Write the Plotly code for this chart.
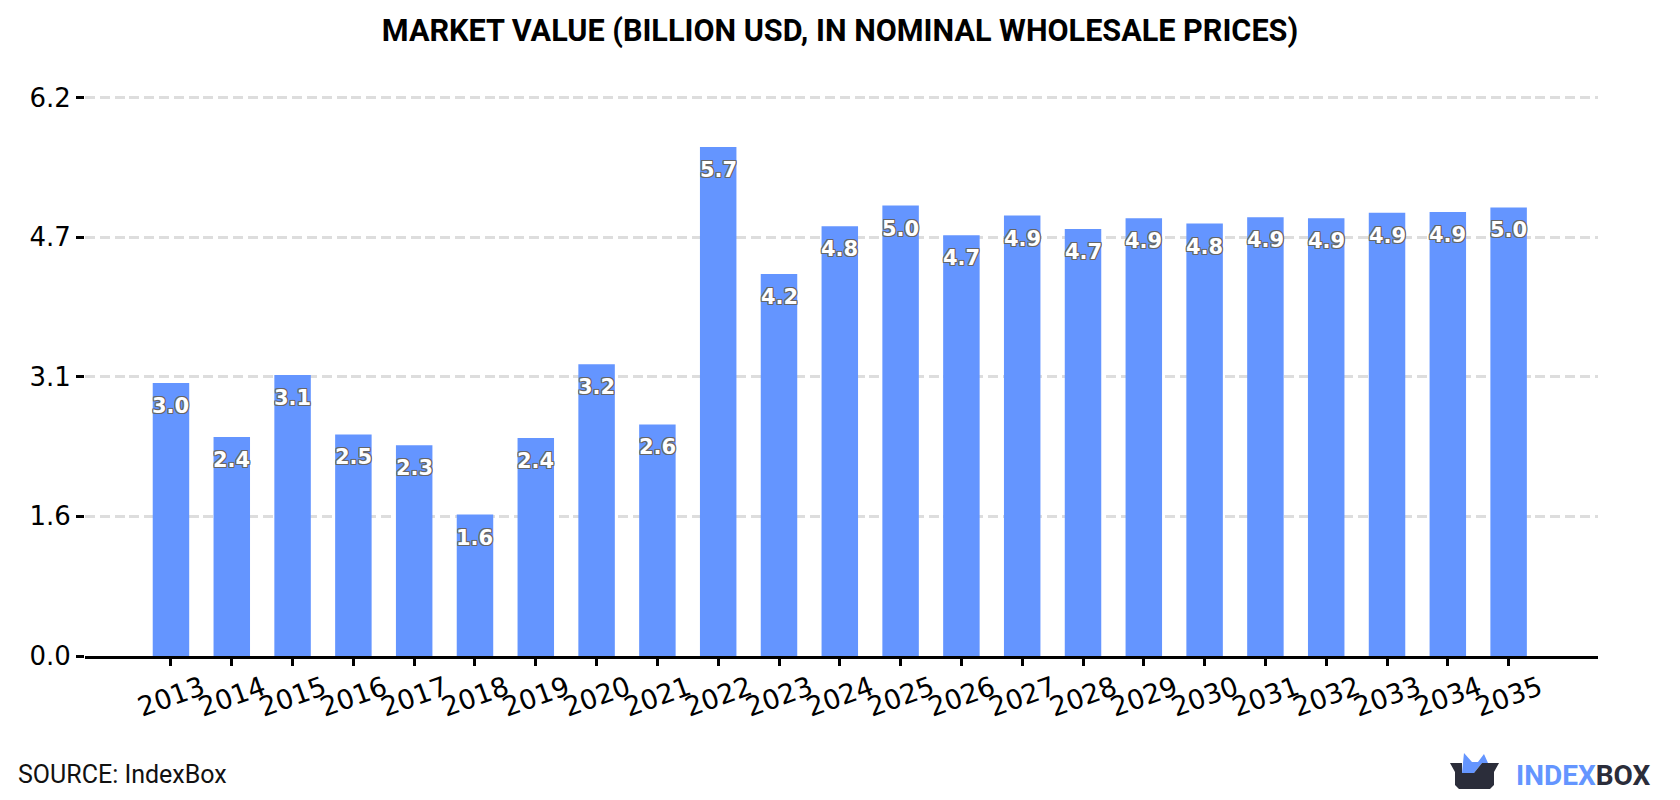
import plotly.graph_objects as go

years = [str(y) for y in range(2013, 2036)]
market_value = [3.03, 2.43, 3.12, 2.46, 2.34, 1.57, 2.42, 3.24, 2.57, 5.65, 4.24, 4.77,
                5.00, 4.67, 4.89, 4.74, 4.86, 4.80, 4.87, 4.86, 4.92, 4.93, 4.98]
y_ticks = [0, 1.55, 3.1, 4.65, 6.2]
y_tick_labels = ["0.0", "1.6", "3.1", "4.7", "6.2"]

BLUE = "#6495ff"
DARK = "#2b2d3a"
W, H = 1680, 800
Y_TOP = 6.25
M_L, M_R, M_T, M_B = 85, 82, 92.5, 144
OUTLINE = ("1px 0 #666, -1px 0 #666, 0 1px #666, 0 -1px #666, "
           "1px 1px #666, -1px 1px #666, 1px -1px #666, -1px -1px #666")


def paper_x(px):
    return (px - M_L) / (W - M_L - M_R)


def paper_y(py):
    return (H - M_B - py) / (H - M_T - M_B)


fig = go.Figure(go.Bar(x=years, y=market_value, width=0.6,
                       marker=dict(color=BLUE, line=dict(width=0)), hoverinfo="x+y"))

# Value labels sit just under the top of each bar; x is the category index
for i, val in enumerate(market_value):
    fig.add_annotation(x=i, y=val, xref="x", yref="y", yshift=-23, showarrow=False,
                       text=f"{val:.1f}", yanchor="middle", xanchor="center",
                       font=dict(family="DejaVu Sans", size=21, color="white",
                                 weight="bold", shadow=OUTLINE))


def px_path(points):
    """SVG path in paper coordinates from pixel positions on the page."""
    conv = [(paper_x(x), paper_y(y)) for x, y in points]
    return "M" + " L".join(f"{a:.5f},{b:.5f}" for a, b in conv) + " Z"


# Logo: blue crown rising out of a dark open box
crown = [(1462, 773), (1464, 753), (1472, 762), (1478, 762), (1484, 754), (1488, 763), (1482, 763), (1474, 773)]
box = [(1450, 763), (1462, 763), (1462, 773), (1474, 773), (1482, 763), (1499, 763), (1494, 772),
       (1494, 785), (1490, 789), (1459, 789), (1455, 785), (1455, 772)]
for pts, col in ((crown, BLUE), (box, DARK)):
    fig.add_shape(type="path", path=px_path(pts), xref="paper", yref="paper",
                  fillcolor=col, line=dict(width=0), layer="above")

fig.add_annotation(x=paper_x(1514), y=paper_y(776), xref="paper", yref="paper", showarrow=False,
                   xanchor="left", yanchor="middle",
                   text=f'<span style="color:{BLUE}">INDEX</span><span style="color:{DARK}">BOX</span>',
                   font=dict(family="Roboto", size=28, weight="bold"))
fig.add_annotation(x=paper_x(16), y=paper_y(775), xref="paper", yref="paper", showarrow=False,
                   xanchor="left", yanchor="middle", text="SOURCE: IndexBox",
                   font=dict(family="Roboto", size=25, color="#111"))

fig.update_layout(
    width=W, height=H, autosize=False, bargap=0.4, showlegend=False,
    paper_bgcolor="white", plot_bgcolor="white",
    margin=dict(l=M_L, r=M_R, t=M_T, b=M_B),
    title=dict(text="<b>MARKET VALUE (BILLION USD, IN NOMINAL WHOLESALE PRICES)</b>",
               x=0.5, xanchor="center", xref="container", y=1 - 30 / H, yanchor="middle",
               font=dict(family="Roboto", size=30.6, color="black")),
    xaxis=dict(type="category", range=[-1.414, 23.47], showgrid=False, zeroline=False,
               showline=True, linecolor="black", linewidth=3, ticks="outside", ticklen=7,
               tickwidth=2.5, tickcolor="black", tickangle=-20, automargin=False,
               ticklabelshift=31, ticklabelstandoff=-4,
               tickfont=dict(family="DejaVu Sans", size=27, color="black")),
    yaxis=dict(range=[0, Y_TOP], tickvals=y_ticks, ticktext=y_tick_labels, showgrid=True,
               gridcolor="#dddddd", gridwidth=2.5, griddash="10px,4.8px", zeroline=False,
               showline=False, ticks="outside", ticklen=8, tickwidth=2.5, tickcolor="black",
               automargin=False, tickfont=dict(family="DejaVu Sans", size=26, color="black")),
)

fig.write_html("out.html")
